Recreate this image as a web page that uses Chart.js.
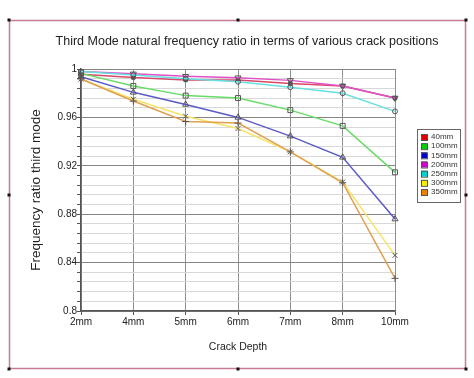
<!DOCTYPE html>
<html>
<head>
<meta charset="utf-8">
<script src="https://cdn.jsdelivr.net/npm/chart.js@4/dist/chart.umd.min.js"></script>
<style>
  body { margin: 0; background: #fff; }
  #wrap { width: 474px; height: 378px; }
</style>
</head>
<body>
<div id="wrap"><canvas id="line_chart1"></canvas></div>
<script>
'use strict';
// crack depths on the x axis
var depths = ['2mm', '4mm', '5mm', '6mm', '7mm', '8mm', '10mm'];
// crack positions (legend)
var positions = ['40mm', '100mm', '150mm', '200mm', '250mm', '300mm', '350mm'];

// third mode frequency ratio
var r40 = [0.9956, 0.993, 0.991, 0.991, 0.988, 0.986, 0.976];
var r100 = [0.9964, 0.986, 0.978, 0.976, 0.966, 0.953, 0.9146];
var r150 = [0.9936, 0.9807, 0.9707, 0.960, 0.9445, 0.927, 0.876];
var r200 = [0.998, 0.996, 0.994, 0.9928, 0.9906, 0.986, 0.976];
var r250 = [0.998, 0.995, 0.992, 0.9895, 0.985, 0.980, 0.965];
var r300 = [0.9917, 0.975, 0.961, 0.9508, 0.9315, 0.9066, 0.846];
var r350 = [0.9917, 0.9735, 0.9566, 0.9553, 0.9315, 0.906, 0.827];

var font = "'Liberation Sans', Arial, sans-serif";

var lineColors = ['#d84868', '#66dd66', '#5a5ac8', '#e050c8', '#66e0e0', '#f6e46a', '#e0a050'];
var legendColors = ['#e00000', '#00d000', '#0000c8', '#d000d0', '#00d0d0', '#f8ee00', '#f08000'];
var markers = ['rect', 'rect', 'triangle', 'triangle', 'circle', 'crossRot', 'cross'];
var radii = [2.5, 3.5, 3.5, 3.5, 2.5, 3.5, 3.5];
var series = [r40, r100, r150, r200, r250, r300, r350];

let datasets = [];
series.forEach((vals, i) => {
    datasets.push({
        label: positions[i],
        data: vals,
        fill: false,
        borderColor: lineColors[i],
        borderWidth: 1.5,
        tension: 0,
        pointStyle: markers[i],
        pointRotation: i === 3 ? 180 : 0,
        pointRadius: radii[i],
        pointBorderColor: '#555',
        pointBorderWidth: 1,
        pointBackgroundColor: i === 0 ? '#555' : 'rgba(255,255,255,0)',
        order: series.length - i
    });
});

function isMajor(v) {
    return Math.round(v * 1000) % 40 === 0;
}

// pink frame with the little handles, and the boxed legend
const framePlugin = {
    id: 'frame',
    beforeDraw(chart) {
        const ctx = chart.ctx;
        ctx.save();
        ctx.fillStyle = '#fff';
        ctx.fillRect(0, 0, chart.width, chart.height);
        ctx.restore();
    },
    afterDraw(chart) {
        const ctx = chart.ctx;
        ctx.save();
        ctx.strokeStyle = '#c87a92';
        ctx.lineWidth = 1.5;
        ctx.strokeRect(9.5, 20.5, 456, 348);
        ctx.fillStyle = '#111';
        [[9, 20], [238, 20], [466, 20], [9, 195], [466, 195], [9, 369], [238, 369], [466, 369]]
            .forEach(p => ctx.fillRect(p[0] - 1.5, p[1] - 1.5, 3, 3));

        // legend
        ctx.strokeStyle = '#666';
        ctx.lineWidth = 1;
        ctx.strokeRect(417.5, 129.5, 43, 73);
        ctx.font = '8px ' + font;
        ctx.textBaseline = 'middle';
        ctx.textAlign = 'left';
        positions.forEach((p, i) => {
            const y = 137 + i * 9.17;
            ctx.fillStyle = legendColors[i];
            ctx.fillRect(421, y - 3, 6, 6);
            ctx.strokeStyle = '#555';
            ctx.strokeRect(421.5, y - 2.5, 6, 6);
            ctx.fillStyle = '#333';
            ctx.fillText(p, 431, y);
        });
        ctx.restore();
    }
};

let config = {
    type: 'line',
    data: {
        labels: depths,
        datasets: datasets
    },
    options: {
        responsive: true,
        maintainAspectRatio: false,
        animation: false,
        layout: { padding: { left: 28, right: 8, top: 0, bottom: 0 } },
        plugins: {
            legend: { display: false },
            tooltip: { enabled: false },
            title: {
                display: true,
                text: 'Third Mode natural frequency ratio in terms of various crack positions',
                color: '#222',
                font: { family: font, size: 12.5, weight: 'normal' },
                padding: { top: 34.5, bottom: 19.5 }
            }
        },
        scales: {
            x: {
                offset: false,
                afterFit: s => { s.height = 67; },
                grid: { color: '#8f8f8f', tickLength: 4, tickColor: '#555' },
                border: { color: '#555', width: 1.5 },
                ticks: { color: '#222', font: { family: font, size: 10 }, padding: 1, maxRotation: 0 },
                title: {
                    display: true,
                    text: 'Crack Depth',
                    color: '#222',
                    font: { family: font, size: 10.5 },
                    padding: { top: 0, bottom: 25 }
                }
            },
            y: {
                min: 0.8,
                max: 1,
                afterFit: s => { s.width = 53; },
                grid: {
                    color: c => (c.tick && isMajor(c.tick.value) ? '#858585' : '#d8d8d8'),
                    tickColor: '#555',
                    tickLength: 4
                },
                border: { color: '#555', width: 1.5 },
                ticks: {
                    stepSize: 0.008,
                    autoSkip: false,
                    padding: 0,
                    color: '#222',
                    font: { family: font, size: 10 },
                    callback: v => {
                        if (!isMajor(v)) return '';
                        const r = Math.round(v * 1000);
                        if (r === 1000) return '1';
                        if (r === 800) return '0.8';
                        return (r / 1000).toFixed(2);
                    }
                },
                title: {
                    display: true,
                    text: 'Frequency ratio third mode',
                    color: '#222',
                    font: { family: font, size: 13.5 },
                    padding: 0
                }
            },
            // empty right axis that keeps room for the legend box
            yRight: {
                type: 'linear',
                position: 'right',
                min: 0,
                max: 1,
                afterFit: s => { s.width = 71; },
                grid: { display: false },
                border: { display: false },
                ticks: { display: false }
            }
        }
    },
    plugins: [framePlugin]
};

new Chart(document.getElementById('line_chart1').getContext('2d'), config);
</script>
</body>
</html>
